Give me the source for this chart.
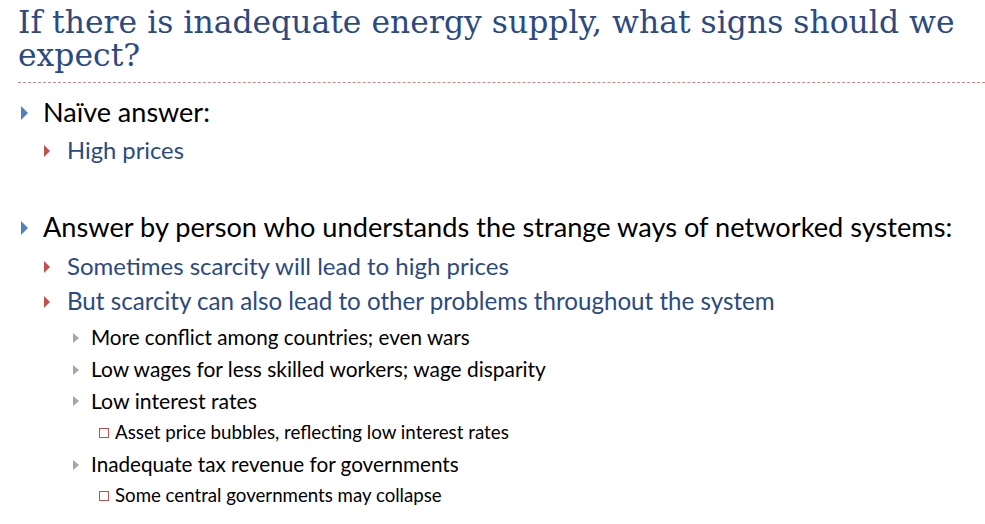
<!DOCTYPE html>
<html><head><meta charset="utf-8">
<script src="https://cdn.jsdelivr.net/npm/chart.js@4"></script>
<style>
html,body{margin:0;padding:0;background:#fff;width:985px;height:524px;overflow:hidden;position:relative}
.ln{position:absolute;white-space:nowrap;line-height:1.2}
.bl{display:inline-block;width:0;height:0}
.bul{position:absolute}
#sep{position:absolute;left:18px;top:82px;width:967px;height:0;border-top:1px dashed #c48a8a}
</style></head>
<body>
<div id="sep"></div>
<script>
// slide text content
const titleLines = ["If there is inadequate energy supply, what signs should we","expect?"];
const bulletTexts = [
 "Naïve answer:",
 "High prices",
 "Answer by person who understands the strange ways of networked systems:",
 "Sometimes scarcity will lead to high prices",
 "But scarcity can also lead to other problems throughout the system",
 "More conflict among countries; even wars",
 "Low wages for less skilled workers; wage disparity",
 "Low interest rates",
 "Asset price bubbles, reflecting low interest rates",
 "Inadequate tax revenue for governments",
 "Some central governments may collapse"
];
const bulletLevels = [1,2,1,2,2,3,3,3,4,3,4];

// layout (positions / sizes / styles)
const titleLayout = [{x:18,base:33,w:937},{x:18,base:66,w:null}];
const lineLayout = [
 {base:122,w:167},{base:159,w:117},{base:237,w:910},{base:275,w:442},{base:310,w:708},
 {base:345,w:379},{base:377,w:455},{base:409,w:166},{base:439,w:394},{base:472,w:368},{base:502,w:327}
];
const levelStyle = {
 1:{x:43,color:'#000',bx:21,bcol:'#4f81bd',bs:14,type:'tri'},
 2:{x:67,color:'#2b4a80',bx:44,bcol:'#c0504d',bs:12,type:'tri'},
 3:{x:91,color:'#000',bx:73,bcol:'#a6a6a6',bs:11,type:'tri'},
 4:{x:115,color:'#000',bx:99,bcol:'#c0504d',bs:10,type:'sq'}
};
const sansFont = "Lato, 'Noto Sans', sans-serif";
const serifFont = "'DejaVu Serif', 'Liberation Serif', serif";

function place(text, x, base, targetW, font, color, size0){
  const d=document.createElement('div'); d.className='ln';
  d.style.fontFamily=font; d.style.color=color; d.style.left=x+'px';
  const s=document.createElement('span'); s.textContent=text;
  const b=document.createElement('span'); b.className='bl';
  d.appendChild(s); d.appendChild(b); document.body.appendChild(d);
  let size=size0; d.style.fontSize=size+'px';
  if(targetW){ const w=s.getBoundingClientRect().width; size=size*targetW/w; d.style.fontSize=size+'px'; }
  d.style.top=(base-b.offsetTop)+'px';
  return size;
}
function bullet(st, base, size){
  const c=document.createElement('div'); c.className='bul';
  const cy=base-size*0.33;
  if(st.type==='tri'){
    const h=st.bs, w=h*0.55;
    c.style.width='0';c.style.height='0';
    c.style.borderTop=(h/2)+'px solid transparent';
    c.style.borderBottom=(h/2)+'px solid transparent';
    c.style.borderLeft=w+'px solid '+st.bcol;
    c.style.left=st.bx+'px'; c.style.top=(cy-h/2)+'px';
  } else {
    const s=st.bs;
    c.style.width=(s-2)+'px';c.style.height=(s-2)+'px';
    c.style.border='1px solid '+st.bcol;
    c.style.left=st.bx+'px'; c.style.top=(cy-s/2)+'px';
  }
  document.body.appendChild(c);
}
let ts=place(titleLines[0],titleLayout[0].x,titleLayout[0].base,titleLayout[0].w,serifFont,'#2d4a80',30);
place(titleLines[1],titleLayout[1].x,titleLayout[1].base,null,serifFont,'#2d4a80',ts);
bulletTexts.forEach((t,i)=>{
  const st=levelStyle[bulletLevels[i]], L=lineLayout[i];
  const sz=place(t,st.x,L.base,L.w,sansFont,st.color,20);
  bullet(st,L.base,sz);
});
</script>
</body></html>
